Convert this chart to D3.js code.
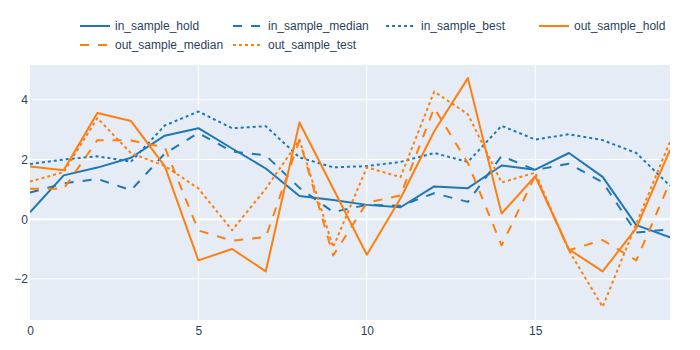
<!DOCTYPE html>
<html>
<head>
<meta charset="utf-8">
<script src="https://cdn.jsdelivr.net/npm/d3@7"></script>
<style>
  html, body { margin: 0; padding: 0; background: #fff; }
  svg { display: block; }
  text { font-family: "Liberation Sans", Arial, sans-serif; }
</style>
</head>
<body>
<svg id="chart" width="700" height="350"></svg>
<script>
const steps = [0,1,2,3,4,5,6,7,8,9,10,11,12,13,14,15,16,17,18,19];
const in_sample_hold   = [0.23, 1.47, 1.73, 2.06, 2.80, 3.05, 2.37, 1.70, 0.78, 0.64, 0.48, 0.40, 1.10, 1.04, 1.80, 1.66, 2.22, 1.42, -0.20, -0.61];
const in_sample_median = [0.89, 1.20, 1.35, 0.97, 2.20, 2.89, 2.27, 2.14, 1.05, 0.24, 0.48, 0.45, 0.87, 0.58, 2.12, 1.65, 1.86, 1.24, -0.45, -0.34];
const in_sample_best   = [1.85, 2.00, 2.11, 1.93, 3.14, 3.61, 3.05, 3.12, 2.07, 1.74, 1.78, 1.92, 2.22, 1.92, 3.13, 2.67, 2.85, 2.65, 2.22, 1.12];
const out_sample_hold  = [1.77, 1.64, 3.56, 3.29, 1.78, -1.38, -1.00, -1.75, 3.24, 1.03, -1.19, 0.70, 2.95, 4.73, 0.19, 1.44, -1.01, -1.75, -0.30, 2.32];
const out_sample_median= [1.02, 1.02, 2.65, 2.64, 2.41, -0.38, -0.72, -0.60, 2.65, -1.22, 0.55, 0.80, 3.73, 1.88, -0.88, 1.46, -1.04, -0.70, -1.38, 1.25];
const out_sample_test  = [1.26, 1.58, 3.39, 2.21, 1.79, 1.03, -0.37, 1.02, 2.66, -0.94, 1.74, 1.41, 4.28, 3.52, 1.23, 1.56, -1.05, -2.94, -0.15, 2.60];

const seriesNames = ["in_sample_hold","in_sample_median","in_sample_best","out_sample_hold","out_sample_median","out_sample_test"];
const seriesValues = [in_sample_hold, in_sample_median, in_sample_best, out_sample_hold, out_sample_median, out_sample_test];
const xTicks = [0, 5, 10, 15];
const yTicks = [-2, 0, 2, 4];

const colors = ["#1f77b4","#1f77b4","#1f77b4","#ff7f0e","#ff7f0e","#ff7f0e"];
const dashes = [null, "9,9", "3,3", null, "9,9", "3,3"];
const FONT = '"Liberation Sans", Arial, sans-serif';

const L = 30, R = 670, T = 65, B = 320;
const svg = d3.select("#chart");
const x = d3.scaleLinear().domain([0, 19]).range([L, R]);
const y = d3.scaleLinear().domain([-3.38, 5.17]).range([B, T]);

svg.append("rect").attr("x", L).attr("y", T).attr("width", R - L).attr("height", B - T).attr("fill", "#E5ECF6");

svg.append("defs").append("clipPath").attr("id", "clip")
  .append("rect").attr("x", L).attr("y", T).attr("width", R - L).attr("height", B - T);

// grid
const g = svg.append("g");
g.selectAll(".vg").data(xTicks.filter(d => d !== 0)).enter().append("line")
  .attr("x1", d => x(d)).attr("x2", d => x(d)).attr("y1", T).attr("y2", B)
  .attr("stroke", "#fff").attr("stroke-width", 1);
g.selectAll(".hg").data(yTicks).enter().append("line")
  .attr("x1", L).attr("x2", R).attr("y1", d => y(d)).attr("y2", d => y(d))
  .attr("stroke", "#fff").attr("stroke-width", d => d === 0 ? 2 : 1);

// axes (labels only)
const xAxis = d3.axisBottom(x).tickValues(xTicks).tickSize(0).tickPadding(6).tickFormat(d3.format("d"));
const xg = svg.append("g").attr("transform", `translate(0,${B})`).call(xAxis);
xg.select(".domain").remove();
xg.selectAll("text").attr("font-size", 12).attr("fill", "#2a3f5f").attr("font-family", FONT);

const yAxis = d3.axisLeft(y).tickValues(yTicks).tickSize(0).tickPadding(2)
  .tickFormat(d => d < 0 ? "\u2212" + Math.abs(d) : String(d));
const yg = svg.append("g").attr("transform", `translate(${L},0)`).call(yAxis);
yg.select(".domain").remove();
yg.selectAll("text").attr("font-size", 12).attr("fill", "#2a3f5f").attr("font-family", FONT);

// lines
const line = d3.line().x((d, i) => x(steps[i])).y(d => y(d));
const lg = svg.append("g").attr("clip-path", "url(#clip)");
seriesValues.forEach((vals, k) => {
  lg.append("path").datum(vals).attr("d", line)
    .attr("fill", "none").attr("stroke", colors[k]).attr("stroke-width", 2)
    .attr("stroke-linejoin", "round")
    .attr("stroke-dasharray", dashes[k]);
});

// legend
const colW = 153, startX = 75, rows = [26, 45], perRow = 4;
const leg = svg.append("g");
seriesNames.forEach((name, k) => {
  const col = k % perRow, row = Math.floor(k / perRow);
  const gx = startX + col * colW, gy = rows[row];
  leg.append("line").attr("x1", gx + 5).attr("x2", gx + 35).attr("y1", gy).attr("y2", gy)
    .attr("stroke", colors[k]).attr("stroke-width", 2).attr("stroke-dasharray", dashes[k]);
  leg.append("text").attr("x", gx + 40).attr("y", gy).attr("dy", "0.35em")
    .attr("font-size", 12).attr("fill", "#2a3f5f").attr("font-family", FONT).text(name);
});
</script>
</body>
</html>
